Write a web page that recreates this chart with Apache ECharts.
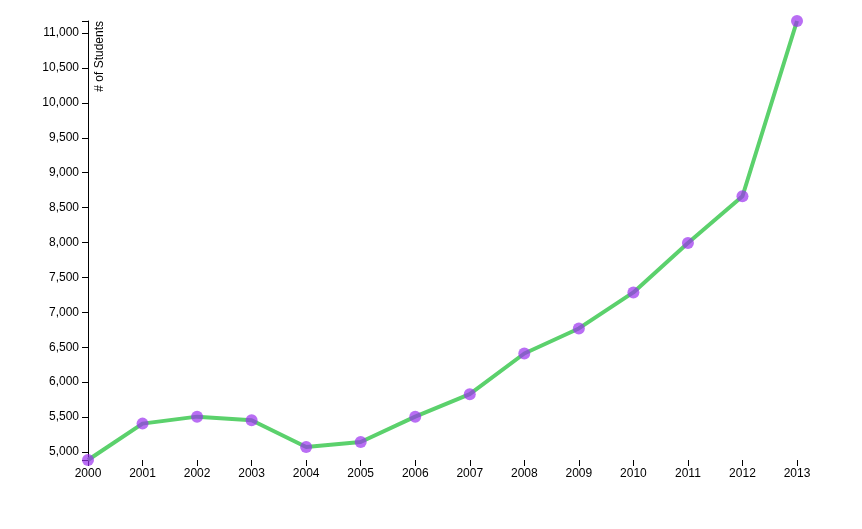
<!DOCTYPE html>
<html>
<head>
<meta charset="utf-8">
<title># of Students</title>
<script src="https://cdn.jsdelivr.net/npm/echarts@6/dist/echarts.min.js"></script>
<style>
  html, body { margin: 0; padding: 0; background: #fff; }
  #chart { width: 862px; height: 529px; }
</style>
</head>
<body>
<div id="chart"></div>
<script>
// years on the x axis
var years = ['2000', '2001', '2002', '2003', '2004', '2005', '2006',
             '2007', '2008', '2009', '2010', '2011', '2012', '2013'];
// number of students
var students = [4885, 5406, 5506, 5455, 5072, 5143, 5506,
                5828, 6410, 6769, 7285, 7993, 8662, 11172];
// y tick labels
var yTicks = [5000, 5500, 6000, 6500, 7000, 7500, 8000, 8500,
              9000, 9500, 10000, 10500, 11000];

var yMin = Math.min.apply(null, students);
var yMax = Math.max.apply(null, students);
var font = 'Liberation Sans, Arial, Helvetica, sans-serif';

var myChart = echarts.init(document.getElementById('chart'));

var option = {
    animation: false,
    grid: { left: 88, right: 65, top: 21, bottom: 69 },
    xAxis: {
        type: 'category',
        data: years,
        boundaryGap: false,
        axisLine: { show: false },
        axisTick: { show: true, length: 6, alignWithLabel: true, lineStyle: { color: '#000' } },
        axisLabel: { color: '#000', fontSize: 12, fontFamily: font, margin: 8 },
        splitLine: { show: false }
    },
    yAxis: {
        type: 'value',
        min: yMin,
        max: yMax,
        axisLine: { show: true, lineStyle: { color: '#000', width: 1 } },
        // outer ticks at both ends of the domain, like d3
        axisTick: { show: true, length: 6, lineStyle: { color: '#000' },
                    customValues: [yMin].concat(yTicks, [yMax]) },
        axisLabel: {
            color: '#000', fontSize: 12, fontFamily: font, margin: 9,
            customValues: yTicks,
            formatter: function (v) { return v.toLocaleString('en-US'); }
        },
        splitLine: { show: false }
    },
    graphic: [{
        type: 'text',
        x: 99.5,
        y: 21,
        rotation: Math.PI / 2,
        style: {
            text: '# of Students',
            fill: '#000',
            font: '12px ' + font,
            align: 'right',
            verticalAlign: 'middle'
        }
    }],
    series: [{
        name: '# of Students',
        type: 'line',
        data: students,
        symbol: 'circle',
        symbolSize: 12,
        showAllSymbol: true,
        lineStyle: { color: '#5bd16c', width: 4 },
        itemStyle: { color: 'rgba(155, 48, 240, 0.7)', borderWidth: 0 },
        z: 2
    }]
};

myChart.setOption(option);
</script>
</body>
</html>
